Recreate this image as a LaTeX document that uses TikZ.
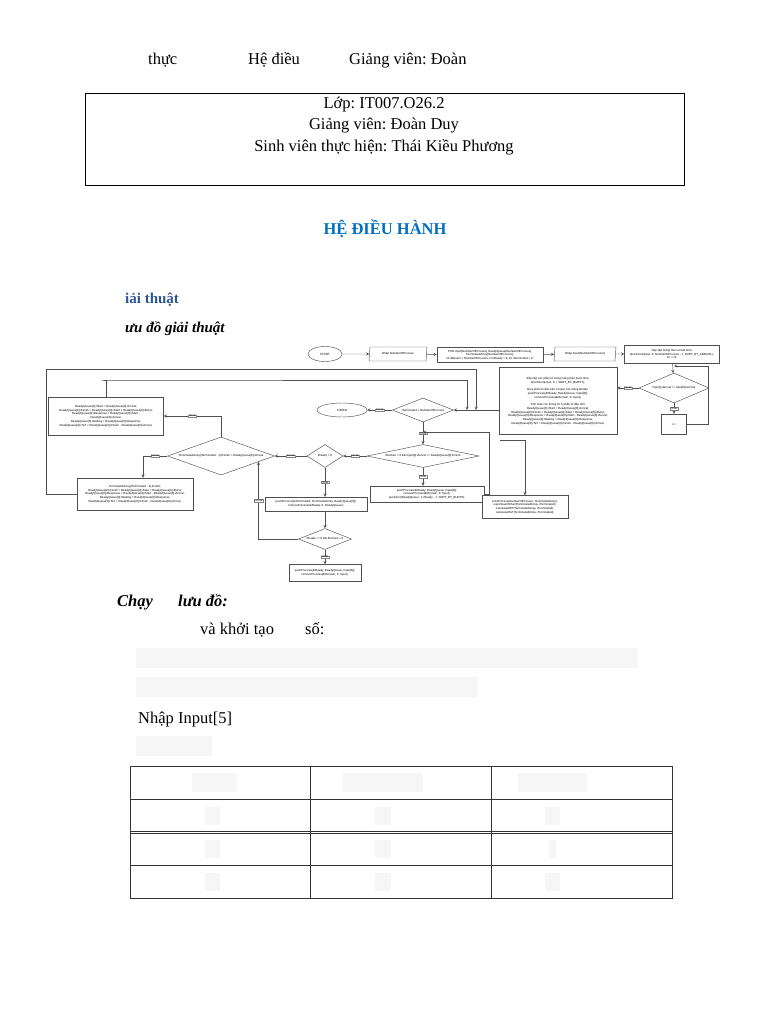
\documentclass[tikz,border=0pt]{standalone}
\usepackage{fontspec}
\setmainfont{Liberation Serif}
\newfontfamily\chartfont{Liberation Sans}
\usepackage{xcolor}
\usetikzlibrary{shapes.geometric, arrows, positioning, calc}
\frenchspacing
\definecolor{titleblue}{HTML}{0070C0}
\definecolor{headblue}{HTML}{2F5597}
\definecolor{chartline}{HTML}{505050}
\definecolor{ghost}{HTML}{F6F6F6}
\tikzstyle{arrow} = [draw=chartline, line width=0.45pt, ->, >=stealth]
\tikzstyle{process} = [rectangle, draw=chartline, line width=0.45pt, fill=white, align=center, inner sep=0.5pt, font=\chartfont\fontsize{2.9}{3.7}\selectfont]
\tikzstyle{decision} = [diamond, draw=chartline, line width=0.45pt, fill=white, inner sep=0pt]
\tikzstyle{dtext} = [align=center, inner sep=0pt, font=\chartfont\fontsize{2.9}{3.5}\selectfont]
\tikzstyle{terminal} = [ellipse, draw=chartline, line width=0.45pt, fill=white, inner sep=0pt, font=\chartfont\fontsize{3}{3.5}\selectfont]
\tikzstyle{io} = [trapezium, trapezium left angle=70, trapezium right angle=110, trapezium stretches body=true, draw=chartline, line width=0.45pt, fill=white, inner sep=0pt, font=\chartfont\fontsize{2.9}{3.5}\selectfont]
\tikzstyle{lbl} = [rectangle, draw=chartline!70, line width=0.25pt, fill=white, inner sep=0.4pt, font=\chartfont\fontsize{2.5}{3}\selectfont]
\tikzstyle{body} = [anchor=base west, inner sep=0pt, font=\fontsize{16.5}{21.5}\selectfont]
\tikzstyle{boxline} = [anchor=base, inner sep=0pt, font=\fontsize{16.5}{21.5}\selectfont]
\tikzstyle{ghostbox} = [fill=ghost, draw=none]
\tikzstyle{tablerule} = [draw=black!80, line width=0.8pt]

\begin{document}
\begin{tikzpicture}[x=1pt, y=-1pt]
\useasboundingbox (0,0) rectangle (768,1024);
\fill[white] (0,0) rectangle (768,1024);

% Header
\node (hdrA) [body] at (148,65) {thực};
\node (hdrB) [body] at (248,65) {Hệ điều};
\node (hdrC) [body] at (349,65) {Giảng viên: Đoàn};

\node (infobox) [rectangle, draw, line width=0.8pt, minimum width=599, minimum height=92, anchor=north west] at (85,93) {};
\node (classline) [boxline] at (384,109) {Lớp: IT007.O26.2};
\node (teacherline) [boxline] at (384,130) {Giảng viên: Đoàn Duy};
\node (studentline) [boxline] at (384,152) {Sinh viên thực hiện: Thái Kiều Phương};

\node (title) [boxline, text=titleblue, font=\bfseries\fontsize{16.5}{20}\selectfont] at (385,234) {HỆ ĐIỀU HÀNH};
\node (section) [body, text=headblue, font=\bfseries\fontsize{15}{18}\selectfont] at (125,303) {iải thuật};
\node (subsection) [body, font=\bfseries\itshape\fontsize{15}{18}\selectfont] at (125,332) {ưu đồ giải thuật};

% Flowchart: main line
\node (start) [terminal, minimum width=34, minimum height=15] at (325,354) {START};
\node (inNum) [io, minimum width=58, minimum height=14] at (398,354) {Nhập NumberOfProcess};
\node (pcb) [process, minimum width=106, minimum height=15] at (490,355) {PCB Input[NumberOfProcess], ReadyQueue[NumberOfProcess],\\TerminatedArray[NumberOfProcess];\\int iRemain = NumberOfProcess, int iReady = 0, int iTerminated = 0;};
\node (inArr) [io, minimum width=62, minimum height=14] at (585,354) {Nhập Input[NumberOfProcess]};
\node (sortArr) [process, minimum width=95, minimum height=18] at (672,354) {Sắp xếp mảng theo arrival time:\\QuickSort(Input, 0, NumberOfProcess - 1, SORT\_BY\_ARRIVAL);\\int i = 0;};
\node (dArrival) [decision, minimum width=70, minimum height=30, label={[dtext]center:Input[i].iArrival == Input[0].iArrival}] at (674,388) {};
\node (iinc) [process, minimum width=25, minimum height=20] at (674,424) {i++};
\node (firstProc) [process, minimum width=118, minimum height=67] at (558,401) {Sắp xếp các phần tử trong mảng theo burst time:\\QuickSort(Input, 0, i, SORT\_BY\_BURST);\\[3.7pt]Đưa phần tử đầu tiên ở Input vào mảng Ready:\\pushProcess(\&iReady, ReadyQueue, Input[0]);\\removeProcess(\&iRemain, 0, Input);\\[3.7pt]Tính toán các thông tin ở phần tử đầu tiên:\\ReadyQueue[0].iStart = ReadyQueue[0].iArrival;\\ReadyQueue[0].iFinish = ReadyQueue[0].iStart + ReadyQueue[0].iBurst;\\ReadyQueue[0].iResponse = ReadyQueue[0].iStart - ReadyQueue[0].iArrival;\\ReadyQueue[0].iWaiting = ReadyQueue[0].iResponse;\\ReadyQueue[0].iTaT = ReadyQueue[0].iFinish - ReadyQueue[0].iArrival;};

% Flowchart: scheduling loop
\node (dLoop) [decision, minimum width=61, minimum height=24, label={[dtext]center:iTerminated < NumberOfProcess}] at (423,410) {};
\node (finish) [terminal, minimum width=50, minimum height=14] at (342,410) {FINISH};
\node (dRemain) [decision, minimum width=112, minimum height=23, label={[dtext]center:iRemain > 0 \&\& Input[0].iArrival <= ReadyQueue[0].iFinish}] at (423,456) {};
\node (dReady) [decision, minimum width=36, minimum height=23, label={[dtext]center:iReady > 0}] at (325,456) {};
\node (dIdle) [decision, minimum width=107, minimum height=38, label={[dtext]center:TerminatedArray[iTerminated - 1].iFinish < ReadyQueue[0].iArrival}] at (221,456) {};
\node (calcNext) [process, minimum width=115, minimum height=38] at (106,416) {ReadyQueue[0].iStart = ReadyQueue[0].iArrival;\\ReadyQueue[0].iFinish = ReadyQueue[0].iStart + ReadyQueue[0].iBurst;\\ReadyQueue[0].iResponse = ReadyQueue[0].iStart -\\ReadyQueue[0].iArrival;\\ReadyQueue[0].iWaiting = ReadyQueue[0].iResponse;\\ReadyQueue[0].iTaT = ReadyQueue[0].iFinish - ReadyQueue[0].iArrival;};
\node (calcAfter) [process, minimum width=116, minimum height=32] at (135,494) {TerminatedArray[iTerminated - 1].iFinish;\\ReadyQueue[0].iFinish = ReadyQueue[0].iStart + ReadyQueue[0].iBurst;\\ReadyQueue[0].iResponse = ReadyQueue[0].iStart - ReadyQueue[0].iArrival;\\ReadyQueue[0].iWaiting = ReadyQueue[0].iResponse;\\ReadyQueue[0].iTaT = ReadyQueue[0].iFinish - ReadyQueue[0].iArrival;};
\node (doneProc) [process, minimum width=102, minimum height=14] at (316,504) {pushProcess(\&iTerminated, TerminatedArray, ReadyQueue[0]);\\removeProcess(\&iReady, 0, ReadyQueue);};
\node (dEmpty) [decision, minimum width=53, minimum height=21, label={[dtext]center:iReady == 0 \&\& iRemain > 0}] at (325,539) {};
\node (takeNext) [process, minimum width=72, minimum height=17] at (325,573) {pushProcess(\&iReady, ReadyQueue, Input[0]);\\removeProcess(\&iRemain, 0, Input);};
\node (arrive) [process, minimum width=114, minimum height=16] at (427,494) {pushProcess(\&iReady, ReadyQueue, Input[0]);\\removeProcess(\&iRemain, 0, Input);\\quickSort(ReadyQueue, 1, iReady - 1, SORT\_BY\_BURST);};
\node (report) [process, minimum width=86, minimum height=23] at (525,507) {printProcess(NumberOfProcess, TerminatedArray);\\exportGanttChart(TerminatedArray, iTerminated);\\calculateAWT(TerminatedArray, iTerminated);\\calculateATaT(TerminatedArray, iTerminated);};

% Junctions
\coordinate (jNext) at (467,410);
\coordinate (jAfter) at (476,410);
\coordinate (cOuter) at (46,369);
\coordinate (cInner) at (102,380);
\coordinate (cArriveR) at (489,432);
\coordinate (jArrive) at (423,432);
\coordinate (cIncR) at (708,424);
\coordinate (jSort) at (674,366);
\coordinate (cReport) at (500,440);
\path (dIdle.east) -- (dIdle.south) coordinate[pos=0.3] (dIdleSE);

% Connections
\draw [arrow] (start) -- (inNum);
\draw [arrow] (inNum) -- (pcb);
\draw [arrow] (pcb) -- (inArr);
\draw [arrow] (inArr) -- (sortArr);
\draw [arrow] (sortArr) -- (dArrival);
\draw [arrow] (dArrival) -- node[lbl] {TRUE} (iinc);
\draw [arrow] (iinc.east) -| (cIncR) |- (jSort);
\draw [arrow] (dArrival.west) -- node[lbl] {FALSE} (dArrival.west -| firstProc.east);
\draw [arrow] (firstProc.west |- dLoop.east) -- (dLoop.east);
\draw [arrow] (dLoop) -- node[lbl] {FALSE} (finish);
\draw [arrow] (dLoop) -- node[lbl] {TRUE} (dRemain);
\draw [arrow] (dRemain) -- node[lbl] {FALSE} (dReady);
\draw [arrow] (dReady) -- node[lbl] {FALSE} (dIdle);
\draw [arrow] (dRemain.south) -- node[lbl] {TRUE} (dRemain.south |- arrive.north);
\draw [arrow] (arrive.east) -| (cArriveR) -- (jArrive);
\draw [arrow] (dReady.south) -- node[lbl] {TRUE} (dReady.south |- doneProc.north);
\draw [arrow] (dReady.south |- doneProc.south) -- (dEmpty.north);
\draw [arrow] (dEmpty) -- node[lbl] {TRUE} (takeNext);
\draw [arrow] (dEmpty.west) -| node[lbl, pos=0.75] {FALSE} (dIdleSE);
\draw [arrow] (dIdle.north) |- node[lbl, pos=0.75] {TRUE} (calcNext.east);
\draw [arrow] (dIdle.west) -| node[lbl, pos=0.25] {FALSE} ([xshift=8pt]calcAfter.north);
\draw [arrow] (calcNext.north) |- (cInner) -| (jNext);
\draw [arrow] (calcAfter.west) -| (cOuter) -| (jAfter);
\draw [arrow] (cReport) -| (report.north);

% Run section
\node (runhead) [body, font=\bfseries\itshape\fontsize{16.5}{20}\selectfont] at (117,606) {Chạy};
\node (runhead2) [body, font=\bfseries\itshape\fontsize{16.5}{20}\selectfont] at (178,606) {lưu đồ:};
\node (initA) [body] at (200,634) {và khởi tạo};
\node (initB) [body] at (305,634) {số:};
\fill[ghostbox] (136,648) rectangle (638,668);
\fill[ghostbox] (136,677) rectangle (478,697);
\node (inputline) [body] at (138,723) {Nhập Input[5]};
\fill[ghostbox] (136,736) rectangle (212,756);

% Table
\draw[tablerule] (130,766) rectangle (672,898);
\draw[tablerule, line width=0.6pt] (130,799) -- (672,799);
\draw[tablerule, line width=0.5pt] (130,831.2) -- (672,831.2);
\draw[tablerule, line width=0.5pt] (130,833.2) -- (672,833.2);
\draw[tablerule, line width=0.6pt] (130,865) -- (672,865);
\draw[tablerule, line width=0.6pt] (310,766) -- (310,898);
\draw[tablerule, line width=0.6pt] (491,766) -- (491,898);
\fill[ghostbox] (192,773) rectangle (237,792);
\fill[ghostbox] (343,773) rectangle (423,792);
\fill[ghostbox] (518,773) rectangle (587,792);
\foreach \y in {807,840,873} {
  \fill[ghostbox] (205,\y) rectangle (220,\y+18);
  \fill[ghostbox] (375,\y) rectangle (391,\y+18);
}
\fill[ghostbox] (545,807) rectangle (560,825);
\fill[ghostbox] (549,840) rectangle (556,858);
\fill[ghostbox] (545,873) rectangle (560,891);

\end{tikzpicture}
\end{document}
